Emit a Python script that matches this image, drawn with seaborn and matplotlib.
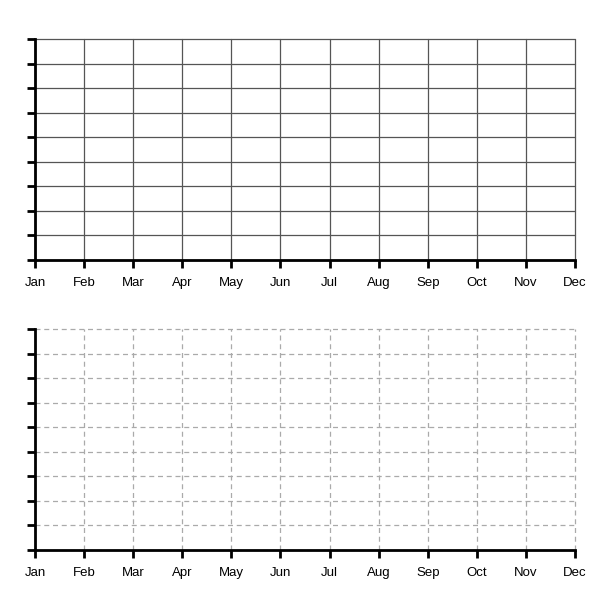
import matplotlib
matplotlib.use("Agg")
import matplotlib.pyplot as plt
import seaborn as sns

months = ["Jan", "Feb", "Mar", "Apr", "May", "Jun", "Jul", "Aug", "Sep", "Oct", "Nov", "Dec"]
y_ticks = [0, 10, 20, 30, 40, 50, 60, 70, 80, 90]

sns.set_style("white")
plt.rcParams["font.family"] = ["Liberation Sans", "DejaVu Sans"]

fig = plt.figure(figsize=(6, 6), dpi=100)
ax_top = fig.add_axes([35/600, 1 - 260/600, 540/600, 221/600])
ax_bot = fig.add_axes([35/600, 1 - 550/600, 540/600, 221/600])

grid_styles = [
    dict(color="#555555", linestyle="-", linewidth=0.9),
    dict(color="#aaaaaa", linestyle=(0, (4, 3)), linewidth=0.9),
]

for ax, gs in zip([ax_top, ax_bot], grid_styles):
    ax.set_xlim(0, len(months) - 1)
    ax.set_ylim(y_ticks[0], y_ticks[-1])
    ax.set_xticks(range(len(months)))
    ax.set_xticklabels(months)
    ax.set_yticks(y_ticks)
    ax.set_yticklabels([])
    ax.grid(True, **gs)
    ax.set_axisbelow(True)
    for line in ax.get_xgridlines() + ax.get_ygridlines():
        line.set_clip_on(False)
    sns.despine(ax=ax, top=True, right=True)
    for s in ["left", "bottom"]:
        ax.spines[s].set_linewidth(2)
        ax.spines[s].set_color("black")
        ax.spines[s].set_zorder(3)
    ax.tick_params(axis="both", direction="out", length=6, width=2, color="black",
                   labelsize=9.5, labelcolor="black", pad=6, left=True, bottom=True)

fig.savefig("out.png", dpi=100)
